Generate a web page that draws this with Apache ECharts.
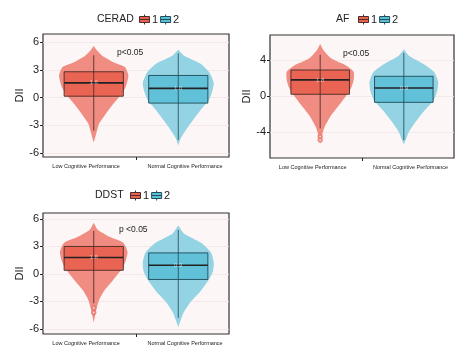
<!DOCTYPE html>
<html>
<head>
<meta charset="utf-8">
<script src="https://cdn.jsdelivr.net/npm/echarts@6/dist/echarts.min.js"></script>
<style>
html, body { margin: 0; background: #fff; }
#main { width: 474px; height: 351px; }
</style>
</head>
<body>
<div id="main"></div>
<script>
// data
var categories = ['Low Cognitive Performance', 'Normal Cognitive Performance'];
var panelNames = ['CERAD', 'AF', 'DDST'];
var groupNames = ['1', '2'];
var pTexts = ['p<0.05', 'p<0.05', 'p <0.05'];
var yTicks = [[-6, -3, 0, 3, 6], [-4, 0, 4], [-6, -3, 0, 3, 6]];

// box stats: [lower whisker, Q1, median, Q3, upper whisker]
var ceradBox = [[-3.6, 0.15, 1.6, 2.8, 4.6], [-4.6, -0.6, 1.0, 2.4, 4.8]];
var afBox = [[-3.6, 0.2, 1.8, 2.9, 4.6], [-4.9, -0.7, 0.9, 2.2, 4.8]];
var ddstBox = [[-3.2, 0.4, 1.8, 3.0, 4.7], [-4.8, -0.6, 0.95, 2.3, 4.8]];

// outlier points
var afOutliers = [-4.5, -4.9];
var ddstOutliers = [-3.7, -4.2];

// violin outline: [DII value, half width in category units]
var ceradViolin1 = [[-4.9, 0], [-3.9, 0.03], [-2.8, 0.065], [-1.8, 0.14], [-0.7, 0.23], [0.4, 0.33], [1.2, 0.38], [2.4, 0.41], [3.3, 0.37], [3.8, 0.24], [4.55, 0.1], [5.1, 0.04], [5.6, 0]];
var ceradViolin2 = [[-5.2, 0], [-4.4, 0.03], [-3.6, 0.085], [-2.5, 0.17], [-1.4, 0.26], [-0.3, 0.36], [0.6, 0.4], [1.6, 0.42], [2.7, 0.37], [3.7, 0.26], [4.55, 0.07], [5.2, 0]];
var afViolin1 = [[-5.3, 0], [-4.1, 0.03], [-3.4, 0.055], [-2.3, 0.12], [-1.2, 0.21], [-0.1, 0.3], [0.9, 0.37], [1.8, 0.4], [2.7, 0.4], [3.4, 0.31], [4.2, 0.13], [5.1, 0.04], [5.8, 0]];
var afViolin2 = [[-5.4, 0], [-4.7, 0.03], [-4.0, 0.06], [-2.9, 0.14], [-1.7, 0.24], [-0.4, 0.36], [0.6, 0.4], [1.6, 0.41], [2.7, 0.36], [3.6, 0.23], [4.5, 0.06], [5.2, 0]];
var ddstViolin1 = [[-5.3, 0], [-3.9, 0.03], [-2.8, 0.065], [-1.75, 0.13], [-0.65, 0.23], [0.65, 0.34], [1.5, 0.38], [2.4, 0.4], [3.4, 0.35], [4.0, 0.2], [4.8, 0.05], [5.6, 0]];
var ddstViolin2 = [[-5.8, 0], [-5.0, 0.03], [-4.1, 0.07], [-3.0, 0.15], [-1.9, 0.26], [-0.65, 0.36], [0.3, 0.41], [1.2, 0.42], [2.3, 0.39], [3.4, 0.27], [4.4, 0.07], [5.3, 0]];

var boxes = [ceradBox, afBox, ddstBox];
var outliers = [[[], []], [afOutliers, []], [ddstOutliers, []]];
var violins = [[ceradViolin1, ceradViolin2], [afViolin1, afViolin2], [ddstViolin1, ddstViolin2]];

var violinColors = ['#f08c81', '#93d3e3'];
var boxColors = ['#e9614f', '#5cbfd8'];
var edgeColors = ['#4b2c28', '#204d59'];
var font = 'Liberation Sans, Arial, sans-serif';

var grids = [
    { left: 43, top: 34, width: 186, height: 123 },
    { left: 270, top: 35, width: 184, height: 123 },
    { left: 43, top: 213, width: 186, height: 121 }
];
var yRanges = [[-6.45, 6.9], [-6.9, 6.8], [-6.55, 6.65]];

var legendIcon = 'path://M0,2H10V8H0Z M0,5H10 M5,0V2 M5,8V10';

var series = [];
panelNames.forEach(function (p, k) {
    groupNames.forEach(function (g, j) {
        var center = j + 1;
        var prof = violins[k][j];
        // violin
        series.push({
            type: 'custom', name: g, xAxisIndex: k, yAxisIndex: k, silent: true, z: 1,
            data: [[center, 0]],
            renderItem: function (params, api) {
                var c = api.value(0);
                var pts = [];
                prof.forEach(function (d) { pts.push(api.coord([c + d[1], d[0]])); });
                for (var i = prof.length - 1; i >= 0; i--) {
                    pts.push(api.coord([c - prof[i][1], prof[i][0]]));
                }
                return { type: 'polygon', shape: { points: pts, smooth: 0.2 }, style: { fill: violinColors[j] } };
            }
        });
        // box + whiskers
        series.push({
            type: 'custom', name: g, xAxisIndex: k, yAxisIndex: k, silent: true, z: 2,
            data: [[center].concat(boxes[k][j])],
            renderItem: function (params, api) {
                var c = api.value(0);
                var lo = api.value(1), q1 = api.value(2), med = api.value(3), q3 = api.value(4), hi = api.value(5);
                var hw = 0.35;
                var tl = api.coord([c - hw, q3]);
                var br = api.coord([c + hw, q1]);
                var mL = api.coord([c - hw, med]);
                var mR = api.coord([c + hw, med]);
                var top = api.coord([c, hi]);
                var bot = api.coord([c, lo]);
                var edge = edgeColors[j];
                return {
                    type: 'group',
                    children: [
                        { type: 'rect', shape: { x: tl[0], y: tl[1], width: br[0] - tl[0], height: br[1] - tl[1] },
                          style: { fill: boxColors[j], opacity: 0.92, stroke: edge, lineWidth: 1 } },
                        { type: 'line', shape: { x1: top[0], y1: top[1], x2: bot[0], y2: bot[1] },
                          style: { stroke: edge, lineWidth: 1, opacity: 0.85 } },
                        { type: 'line', shape: { x1: mL[0], y1: mL[1], x2: mR[0], y2: mR[1] },
                          style: { stroke: '#222', lineWidth: 1.6 } },
                        { type: 'text', style: { text: med.toFixed(1), x: (tl[0] + br[0]) / 2, y: mL[1],
                          align: 'center', verticalAlign: 'middle', fill: 'rgba(255,255,255,0.6)', fontSize: 6, fontFamily: font } }
                    ]
                };
            }
        });
        if (outliers[k][j].length) {
            series.push({
                type: 'scatter', name: g, xAxisIndex: k, yAxisIndex: k, silent: true, z: 3,
                symbol: 'emptyCircle', symbolSize: 3.5,
                itemStyle: { color: '#e6776b', borderWidth: 0.8 },
                data: outliers[k][j].map(function (v) { return [center, v]; })
            });
        }
    });
});

var xAxes = grids.map(function (g, k) {
    return {
        type: 'value', gridIndex: k, min: 0.4, max: 2.6, position: 'bottom',
        axisLine: { show: false, onZero: false },
        axisTick: { show: true, customValues: [1.5], length: 3, lineStyle: { color: '#222' } },
        axisLabel: {
            customValues: [0.91, 2.08], margin: 6, fontSize: 5.5, color: '#222', fontFamily: font,
            formatter: function (v) { return v < 1.5 ? categories[0] : categories[1]; }
        },
        splitLine: { show: false }
    };
});

var yAxes = grids.map(function (g, k) {
    return {
        type: 'value', gridIndex: k, min: yRanges[k][0], max: yRanges[k][1], position: 'left',
        name: 'DII', nameLocation: 'middle', nameGap: 16, nameRotate: 90,
        nameTextStyle: { fontSize: 11, color: '#222', fontFamily: font },
        axisLine: { show: false, onZero: false },
        axisTick: { show: true, customValues: yTicks[k], length: 3, lineStyle: { color: '#222' } },
        axisLabel: { customValues: yTicks[k], margin: 4, fontSize: 11, color: '#222', fontFamily: font },
        splitLine: { show: true, lineStyle: { color: '#f3e4e4', width: 0.8 } }
    };
});

var titlePos = [[97, 14], [336, 14], [95, 190]];
var legendPos = [[139, 14], [358, 14], [130, 190]];
var pPos = [[117, 48], [343, 49], [119, 225]];

var option = {
    animation: false,
    backgroundColor: '#fff',
    grid: grids.map(function (g) {
        return Object.assign({ show: true, backgroundColor: '#fdf6f6', borderColor: '#333', borderWidth: 1.2 }, g);
    }),
    title: panelNames.map(function (p, k) {
        return { text: p, left: titlePos[k][0], top: titlePos[k][1], padding: 0,
                 textStyle: { fontSize: 10.5, fontWeight: 'normal', color: '#222', fontFamily: font } };
    }),
    legend: panelNames.map(function (p, k) {
        return {
            left: legendPos[k][0], top: legendPos[k][1], padding: 0,
            itemWidth: 11, itemHeight: 10, itemGap: 2, selectedMode: false,
            textStyle: { fontSize: 11, color: '#222', fontFamily: font, padding: [0, 0, 0, -3] },
            data: groupNames.map(function (g, j) {
                return { name: g, icon: legendIcon,
                         itemStyle: { color: boxColors[j], borderColor: edgeColors[j], borderWidth: 1 } };
            })
        };
    }),
    graphic: pTexts.map(function (t, k) {
        return { type: 'text', left: pPos[k][0], top: pPos[k][1],
                 style: { text: t, fontSize: 8.5, fill: '#222', fontFamily: font } };
    }),
    xAxis: xAxes,
    yAxis: yAxes,
    series: series
};

var chart = echarts.init(document.getElementById('main'));
chart.setOption(option);
</script>
</body>
</html>
